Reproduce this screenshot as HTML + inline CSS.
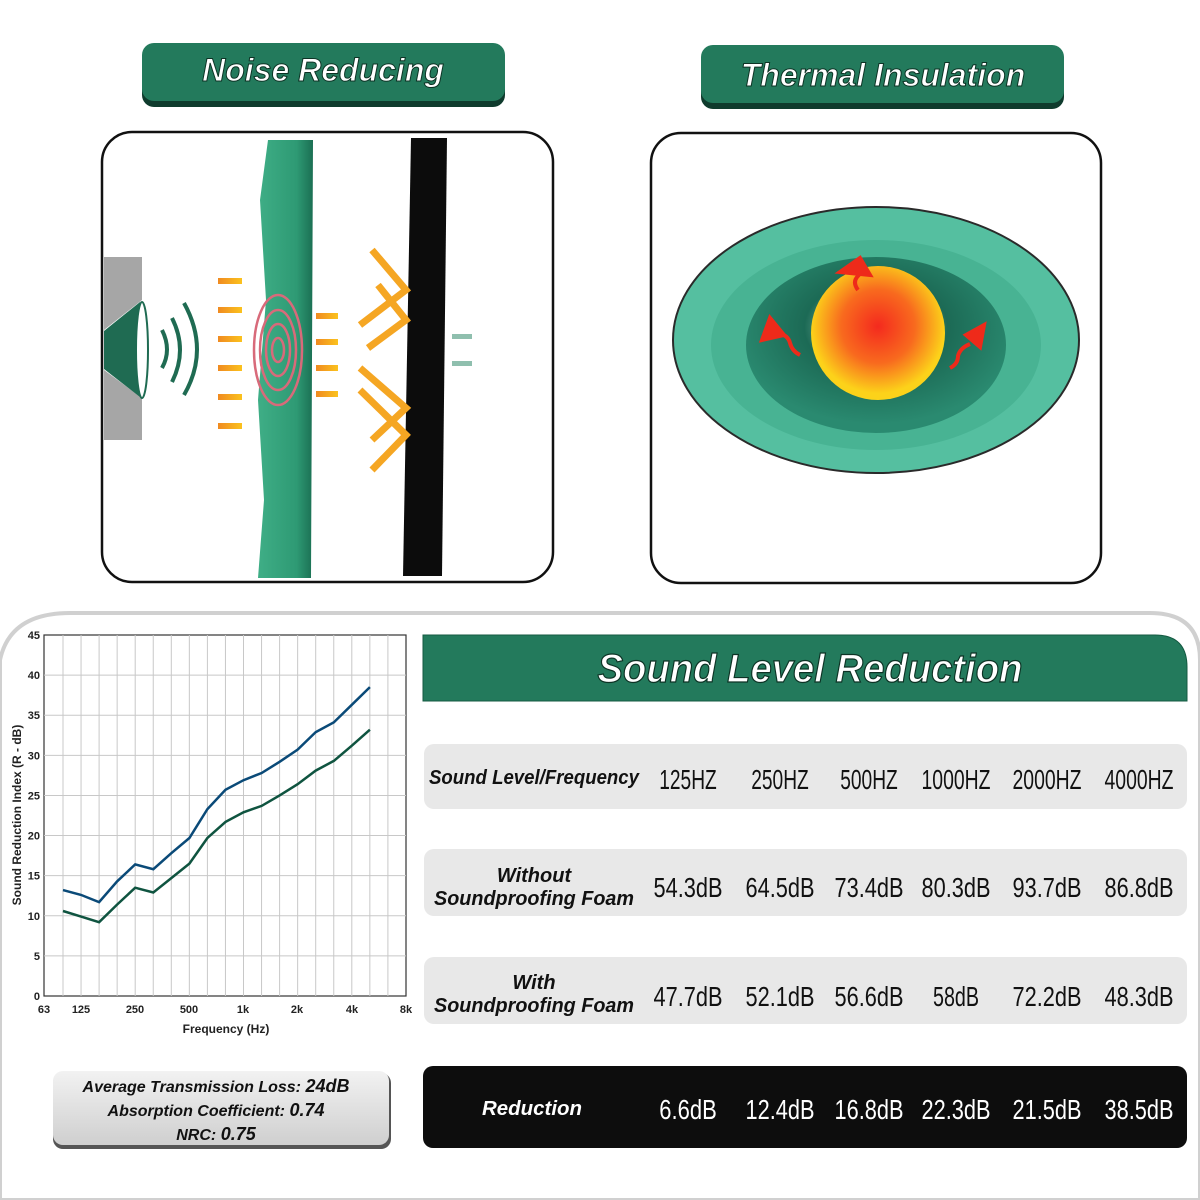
<!DOCTYPE html>
<html><head><meta charset="utf-8"><style>
html,body{margin:0;padding:0;background:#fff;width:1200px;height:1200px;overflow:hidden}
svg{display:block}
.t{font-family:"Liberation Sans",sans-serif}
</style></head><body>
<svg id="s" width="1200" height="1200" viewBox="0 0 1200 1200" xmlns="http://www.w3.org/2000/svg">
<defs>
<radialGradient id="ball" cx="0.5" cy="0.45" r="0.5"><stop offset="0" stop-color="#f42a1e"/><stop offset="0.55" stop-color="#f86a1e"/><stop offset="1" stop-color="#fcd21a"/></radialGradient>
<radialGradient id="cav" cx="0.5" cy="0.4" r="0.55"><stop offset="0" stop-color="#d9f5ea"/><stop offset="0.5" stop-color="#1c6a55"/><stop offset="1" stop-color="#2a8a70"/></radialGradient>
<linearGradient id="org" x1="0" x2="1"><stop offset="0" stop-color="#f08a20"/><stop offset="1" stop-color="#fbc21e"/></linearGradient>
<linearGradient id="foam" x1="0" x2="1"><stop offset="0" stop-color="#3fae86"/><stop offset="0.7" stop-color="#2e9a74"/><stop offset="1" stop-color="#1b6f53"/></linearGradient>
<linearGradient id="gb" x1="0" y1="0" x2="0" y2="1"><stop offset="0" stop-color="#f2f2f2"/><stop offset="1" stop-color="#cfcfcf"/></linearGradient>
</defs>

<rect x="142" y="47" width="363" height="60" rx="12" fill="#0f3b2d"/>
<rect x="142" y="43" width="363" height="58" rx="12" fill="#237a5c"/>
<text x="323" y="81" text-anchor="middle" class="t" font-size="32" font-weight="bold" font-style="italic" fill="#fff" stroke="#0d3325" stroke-width="1">Noise Reducing</text>
<rect x="701" y="49" width="363" height="60" rx="12" fill="#0f3b2d"/>
<rect x="701" y="45" width="363" height="58" rx="12" fill="#237a5c"/>
<text x="883" y="86" text-anchor="middle" class="t" font-size="32" font-weight="bold" font-style="italic" fill="#fff" stroke="#0d3325" stroke-width="1">Thermal Insulation</text>

<rect x="102" y="132" width="451" height="450" rx="30" fill="#fff" stroke="#111" stroke-width="2.5"/>
<rect x="104" y="257" width="38" height="183" fill="#a6a6a6"/>
<polygon points="104,330 142,300 142,398 104,370" fill="#fff"/>
<polygon points="104,331 140,302 140,397 104,369" fill="#1f6b52"/>
<ellipse cx="142" cy="350" rx="6" ry="48" fill="#fff" stroke="#1f6b52" stroke-width="2"/>
<path d="M162 330 Q172 350 162 368" fill="none" stroke="#1f6b52" stroke-width="4"/>
<path d="M172 318 Q188 350 172 382" fill="none" stroke="#1f6b52" stroke-width="4"/>
<path d="M184 303 Q210 350 184 395" fill="none" stroke="#1f6b52" stroke-width="4"/>
<g fill="url(#org)">
<rect x="218" y="278" width="24" height="6"/><rect x="218" y="307" width="24" height="6"/><rect x="218" y="336" width="24" height="6"/><rect x="218" y="365" width="24" height="6"/><rect x="218" y="394" width="24" height="6"/><rect x="218" y="423" width="24" height="6"/>
<rect x="316" y="313" width="22" height="6"/><rect x="316" y="339" width="22" height="6"/><rect x="316" y="365" width="22" height="6"/><rect x="316" y="391" width="22" height="6"/>
</g>
<path d="M268 140 L313 140 L311 578 L258 578 L264 500 L258 400 L266 300 L260 200 Z" fill="url(#foam)"/>
<g fill="none" stroke="#d86a7a" stroke-width="2.5"><ellipse cx="278" cy="350" rx="6" ry="12"/><ellipse cx="278" cy="350" rx="12" ry="26"/><ellipse cx="278" cy="350" rx="18" ry="40"/><ellipse cx="278" cy="350" rx="24" ry="55"/></g>
<polygon points="411,138 447,138 442,576 403,576" fill="#0c0c0c"/>
<g stroke="#f5a623" stroke-width="7" fill="none">
<path d="M360 325 L406 290 L372 250"/><path d="M368 348 L406 320 L378 285"/>
<path d="M360 368 L406 408 L372 440"/><path d="M360 390 L406 435 L372 470"/>
</g>
<g fill="#8fbfae"><rect x="452" y="334" width="20" height="5"/><rect x="452" y="361" width="20" height="5"/></g>

<rect x="651" y="133" width="450" height="450" rx="30" fill="#fff" stroke="#111" stroke-width="2.5"/>
<ellipse cx="876" cy="340" rx="203" ry="133" fill="#55bfa0" stroke="#2a2a2a" stroke-width="2"/>
<ellipse cx="876" cy="345" rx="165" ry="105" fill="#48b393"/>
<ellipse cx="876" cy="345" rx="130" ry="88" fill="url(#cav)"/>
<circle cx="878" cy="333" r="67" fill="url(#ball)"/>
<g stroke="#ee2a1a" stroke-width="4" fill="#ee2a1a">
<path d="M858 290 q-6 -8 0 -14 q6 -6 0 -14" fill="none"/><polygon points="840,272 860,258 870,275"/>
<path d="M800 355 q-8 -4 -10 -12 q-2 -8 -12 -10" fill="none"/><polygon points="762,340 770,318 784,335"/>
<path d="M950 368 q8 -4 8 -12 q2 -8 12 -12" fill="none"/><polygon points="966,335 984,325 980,347"/>
</g>

<path d="M0 660 Q10 613 70 613 L1150 613 Q1200 613 1200 660 L1200 1200 L0 1200 Z" fill="#fff" stroke="#d0d0d0" stroke-width="4"/>

<g id="chart"></g>

<rect x="53" y="1073" width="338" height="76" rx="10" fill="#555"/>
<rect x="53" y="1071" width="336" height="74" rx="10" fill="url(#gb)"/>
<g class="t" font-style="italic" font-weight="bold" text-anchor="middle" fill="#111">
<text x="216" y="1092" font-size="16">Average Transmission Loss: <tspan font-size="18">24dB</tspan></text>
<text x="216" y="1116" font-size="16">Absorption Coefficient: <tspan font-size="18">0.74</tspan></text>
<text x="216" y="1140" font-size="16">NRC: <tspan font-size="18">0.75</tspan></text>
</g>

<path d="M423 635 L1155 635 Q1187 635 1187 667 L1187 701 L423 701 Z" fill="#237a5c" stroke="#145a42" stroke-width="1"/>
<text x="810" y="682" text-anchor="middle" class="t" font-size="40" font-weight="bold" font-style="italic" fill="#fff" stroke="#0d3325" stroke-width="1.2" textLength="425" lengthAdjust="spacingAndGlyphs">Sound Level Reduction</text>
<rect x="424" y="744" width="763" height="65" rx="10" fill="#e8e8e8"/>
<rect x="424" y="849" width="763" height="67" rx="10" fill="#e8e8e8"/>
<rect x="424" y="957" width="763" height="67" rx="10" fill="#e8e8e8"/>
<rect x="423" y="1066" width="764" height="82" rx="10" fill="#0d0d0d"/>
<g class="t" font-weight="bold" font-style="italic" text-anchor="middle" font-size="20">
<text x="534" y="784" fill="#111" textLength="210" lengthAdjust="spacingAndGlyphs">Sound Level/Frequency</text>
<text x="534" y="882" fill="#111">Without</text><text x="534" y="905" fill="#111" textLength="200" lengthAdjust="spacingAndGlyphs">Soundproofing Foam</text>
<text x="534" y="989" fill="#111">With</text><text x="534" y="1012" fill="#111" textLength="200" lengthAdjust="spacingAndGlyphs">Soundproofing Foam</text>
<text x="532" y="1115" fill="#fff" textLength="100" lengthAdjust="spacingAndGlyphs">Reduction</text>
</g>
<g id="cells" class="t" font-size="28" text-anchor="middle"></g>
</svg>
<script>
var ns="http://www.w3.org/2000/svg";
function el(t,a,p,txt){var e=document.createElementNS(ns,t);for(var k in a)e.setAttribute(k,a[k]);if(txt!==undefined)e.textContent=txt;p.appendChild(e);return e;}
var c=document.getElementById("chart");
var X0=44,X1=406,Y0=996,Y1=635;
var st=18.05;
function gx(i){return 63+i*st;}
el("rect",{x:X0,y:Y1,width:X1-X0,height:Y0-Y1,fill:"#fff",stroke:"#333","stroke-width":1.2},c);
for(var i=0;i<19;i++){var x=gx(i);el("line",{x1:x,y1:Y1,x2:x,y2:Y0,stroke:"#c8c8c8","stroke-width":1},c);}
for(var v=5;v<45;v+=5){var y=Y0-v*(Y0-Y1)/45;el("line",{x1:X0,y1:y,x2:X1,y2:y,stroke:"#c8c8c8","stroke-width":1},c);}
var F="Liberation Sans,sans-serif";
for(var v=0;v<=45;v+=5){var y=Y0-v*(Y0-Y1)/45;el("text",{x:40,y:y+4,"text-anchor":"end","font-size":11,"font-weight":"bold","font-family":F,fill:"#222"},c,v);}
var xl=["63","125","250","500","1k","2k","4k","8k"];
var xp=[44,81,135,189,243,297,352,406];
for(var i=0;i<8;i++)el("text",{x:xp[i],y:1013,"text-anchor":"middle","font-size":11,"font-weight":"bold","font-family":F,fill:"#222"},c,xl[i]);
el("text",{x:226,y:1033,"text-anchor":"middle","font-size":12,"font-weight":"bold","font-family":F,fill:"#222"},c,"Frequency (Hz)");
el("text",{x:0,y:0,transform:"translate(21,815) rotate(-90)","text-anchor":"middle","font-size":12,"font-weight":"bold","font-family":F,fill:"#222"},c,"Sound Reduction Index (R - dB)");
var b=[13.2,12.6,11.7,14.3,16.4,15.8,17.8,19.7,23.3,25.7,26.9,27.8,29.2,30.7,32.9,34.1,36.3,38.5];
var g=[10.6,9.9,9.2,11.4,13.5,12.9,14.7,16.5,19.7,21.7,22.9,23.7,25.0,26.4,28.1,29.3,31.2,33.2];
function pts(a){return a.map(function(v,i){return gx(i).toFixed(1)+","+(Y0-v*(Y0-Y1)/45).toFixed(1);}).join(" ");}
el("polyline",{points:pts(b),fill:"none",stroke:"#0a4a78","stroke-width":2.5},c);
el("polyline",{points:pts(g),fill:"none",stroke:"#0f5440","stroke-width":2.5},c);
var cells=document.getElementById("cells");
var xs=[688,780,869,956,1047,1139];
var rows=[[789,["125HZ","250HZ","500HZ","1000HZ","2000HZ","4000HZ"],"#111"],[897,["54.3dB","64.5dB","73.4dB","80.3dB","93.7dB","86.8dB"],"#111"],[1006,["47.7dB","52.1dB","56.6dB","58dB","72.2dB","48.3dB"],"#111"],[1119,["6.6dB","12.4dB","16.8dB","22.3dB","21.5dB","38.5dB"],"#fff"]];
rows.forEach(function(r){r[1].forEach(function(t,i){var w=t.length*11.5;el("text",{x:xs[i],y:r[0],fill:r[2],textLength:w,lengthAdjust:"spacingAndGlyphs"},cells,t);});});
</script>
</body></html>
